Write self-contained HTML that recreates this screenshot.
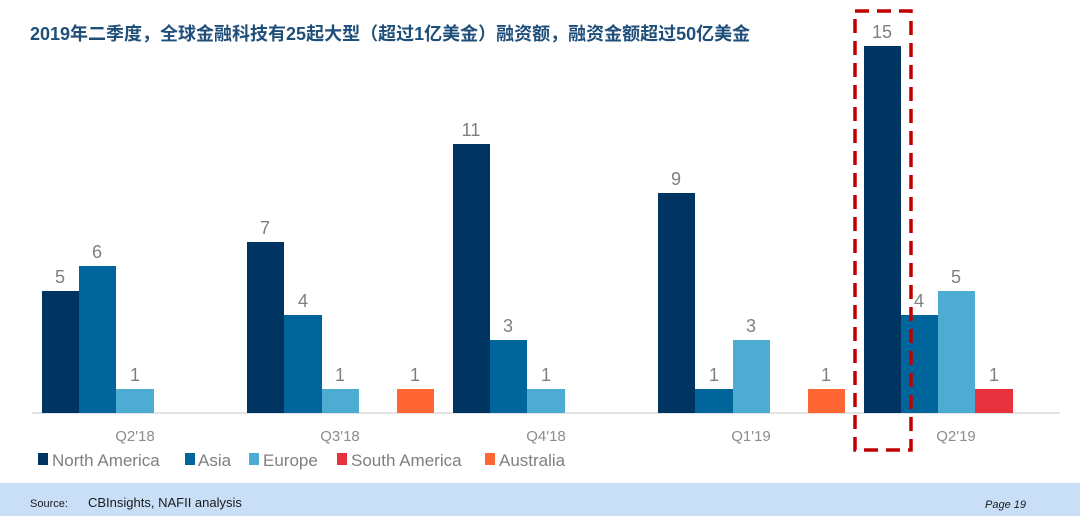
<!DOCTYPE html><html><head><meta charset="utf-8"><style>
body{margin:0;width:1080px;height:516px;background:#fff;overflow:hidden;position:relative;font-family:"Liberation Sans","Noto Sans CJK SC",sans-serif}
</style></head><body>
<svg width="1080" height="516" style="position:absolute;left:0;top:0" font-family="Liberation Sans, Noto Sans CJK SC, sans-serif">
<text x="30" y="40" font-size="18" fill="#1f4e79" font-weight="bold">2019年二季度，全球金融科技有25起大型（超过1亿美金）融资额，融资金额超过50亿美金</text>
<line x1="32" y1="413" x2="1060" y2="413" stroke="#e3e3e3" stroke-width="2"/>
<g>
<rect x="42" y="291" width="37" height="122" fill="#003461"/>
<rect x="79" y="266" width="37" height="147" fill="#00659a"/>
<rect x="116" y="389" width="38" height="24" fill="#4eacd2"/>
<rect x="247" y="242" width="37" height="171" fill="#003461"/>
<rect x="284" y="315" width="38" height="98" fill="#00659a"/>
<rect x="322" y="389" width="37" height="24" fill="#4eacd2"/>
<rect x="397" y="389" width="37" height="24" fill="#ff6633"/>
<rect x="453" y="144" width="37" height="269" fill="#003461"/>
<rect x="490" y="340" width="37" height="73" fill="#00659a"/>
<rect x="527" y="389" width="38" height="24" fill="#4eacd2"/>
<rect x="658" y="193" width="37" height="220" fill="#003461"/>
<rect x="695" y="389" width="38" height="24" fill="#00659a"/>
<rect x="733" y="340" width="37" height="73" fill="#4eacd2"/>
<rect x="808" y="389" width="37" height="24" fill="#ff6633"/>
<rect x="864" y="46" width="37" height="367" fill="#003461"/>
<rect x="901" y="315" width="37" height="98" fill="#00659a"/>
<rect x="938" y="291" width="37" height="122" fill="#4eacd2"/>
<rect x="975" y="389" width="38" height="24" fill="#e8313f"/>
</g>
<g font-size="18" fill="#7f7f7f" text-anchor="middle">
<text x="60" y="283">5</text><text x="97" y="258">6</text><text x="135" y="381">1</text>
<text x="265" y="234">7</text><text x="303" y="307">4</text><text x="340" y="381">1</text><text x="415" y="381">1</text>
<text x="471" y="136">11</text><text x="508" y="332">3</text><text x="546" y="381">1</text>
<text x="676" y="185">9</text><text x="714" y="381">1</text><text x="751" y="332">3</text><text x="826" y="381">1</text>
<text x="882" y="38">15</text><text x="919" y="307">4</text><text x="956" y="283">5</text><text x="994" y="381">1</text>
</g>
<g font-size="15" fill="#8c8c8c" text-anchor="middle">
<text x="135" y="441">Q2'18</text><text x="340" y="441">Q3'18</text><text x="546" y="441">Q4'18</text><text x="751" y="441">Q1'19</text><text x="956" y="441">Q2'19</text>
</g>
<rect x="855" y="11" width="56" height="439" fill="none" stroke="#c00000" stroke-width="3.5" stroke-dasharray="14 8"/>
<g font-size="17" fill="#7f7f7f">
<rect x="38" y="453" width="10" height="12" fill="#003461"/><text x="52" y="466">North America</text>
<rect x="185" y="453" width="10" height="12" fill="#00659a"/><text x="198" y="466">Asia</text>
<rect x="249" y="453" width="10" height="12" fill="#4eacd2"/><text x="263" y="466">Europe</text>
<rect x="337" y="453" width="10" height="12" fill="#e8313f"/><text x="351" y="466">South America</text>
<rect x="485" y="453" width="10" height="12" fill="#ff6633"/><text x="499" y="466">Australia</text>
</g>
<rect x="0" y="483" width="1080" height="33" fill="#c9dff7"/>
<text x="30" y="507" font-size="11" fill="#1a1a1a">Source:</text>
<text x="88" y="507" font-size="13" fill="#1a1a1a">CBInsights, NAFII analysis</text>
<text x="985" y="508" font-size="11" font-style="italic" fill="#1a1a1a">Page 19</text>
</svg>
</body></html>
